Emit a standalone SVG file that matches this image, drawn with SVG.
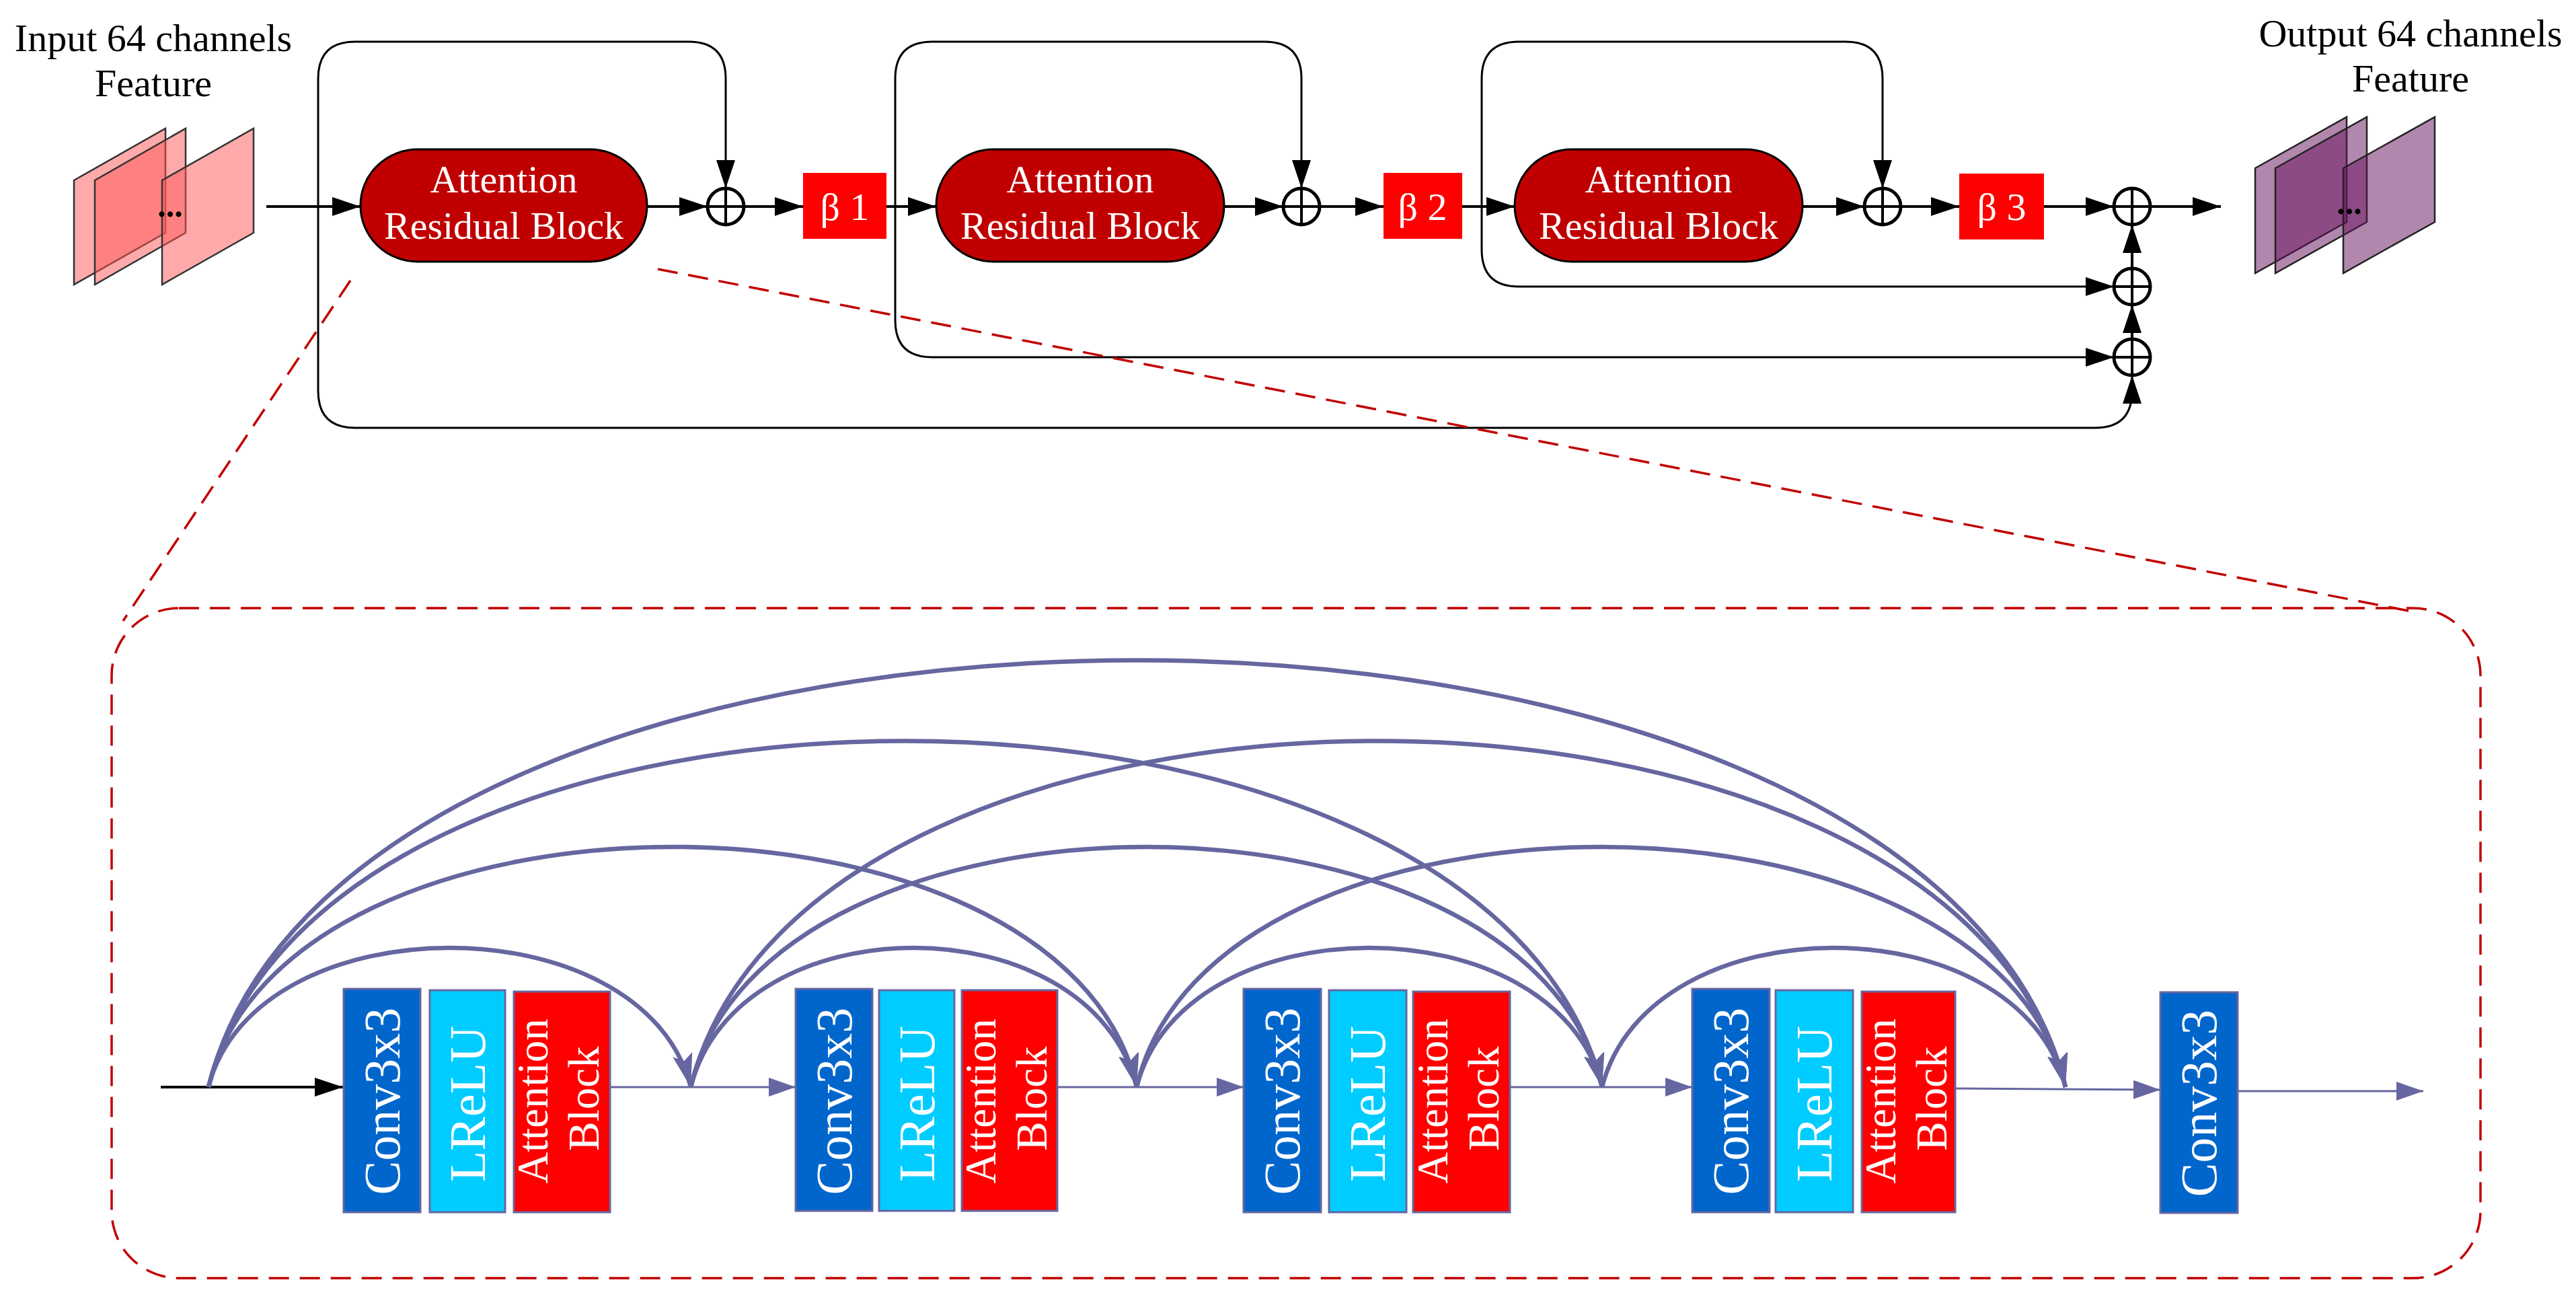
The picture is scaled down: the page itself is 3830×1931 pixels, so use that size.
<svg xmlns="http://www.w3.org/2000/svg" width="3830" height="1931" viewBox="0 0 3830 1931">
<style>
.t{font-family:"Liberation Serif","Times New Roman",serif;}
.lbl{font-size:58px;fill:#000;text-anchor:middle}
.wt{font-size:58px;fill:#fff;text-anchor:middle}
.vt{font-size:76px;fill:#fff;text-anchor:middle;dominant-baseline:central}
.va{font-size:65px;fill:#fff;text-anchor:middle;dominant-baseline:central}
.ln{fill:none;stroke:#000;stroke-width:4}
.lp{fill:none;stroke:#000;stroke-width:3}
.pu{fill:none;stroke:#6666a0;stroke-width:6.5}
.pl{fill:none;stroke:#6666a0;stroke-width:3}
.circ{fill:#fff;stroke:#000;stroke-width:5}
.arb{fill:#c00000;stroke:#000;stroke-width:3}
.beta{fill:#ff0000}
.conv{fill:#0066cc;stroke:#6666a0;stroke-width:3}
.lrelu{fill:#00ccff;stroke:#6666a0;stroke-width:3}
.att{fill:#ff0000;stroke:#6666a0;stroke-width:3}
.dash{fill:none;stroke:#c00000;stroke-width:3.5;stroke-dasharray:30 16}
.pin{fill:#ff5555;fill-opacity:0.5;stroke:#333;stroke-width:2.5}
.pout{fill:#66105c;fill-opacity:0.5;stroke:#222;stroke-width:2.5}
</style>
<defs>
<marker id="ab" markerUnits="userSpaceOnUse" markerWidth="42" markerHeight="28" refX="42" refY="14" orient="auto"><path d="M0,0 L42,14 L0,28 z" fill="#000"/></marker>
<marker id="ap" markerUnits="userSpaceOnUse" markerWidth="50" markerHeight="30" refX="50" refY="15" orient="auto"><path d="M0,0 L50,15 L0,30 L10,15 z" fill="#6666a0"/></marker>
<marker id="apl" markerUnits="userSpaceOnUse" markerWidth="40" markerHeight="28" refX="40" refY="14" orient="auto"><path d="M0,0 L40,14 L0,28 z" fill="#6666a0"/></marker>
</defs>
<rect width="3830" height="1931" fill="#fff"/>

<g id="input-feature">
<text class="t lbl" x="228" y="76">Input 64 channels</text>
<text class="t lbl" x="228" y="143">Feature</text>
<polygon class="pin" points="110,268 246,191 246,346 110,423"/>
<polygon class="pin" points="141,268 276,191 276,346 141,423"/>
<polygon class="pin" points="241,268 377,191 377,346 241,423"/>
<text class="t" x="253" y="322" font-size="50" font-weight="bold" text-anchor="middle">...</text>
</g>
<g id="output-feature">
<text class="t lbl" x="3584" y="69">Output 64 channels</text>
<text class="t lbl" x="3584" y="136">Feature</text>
<polygon class="pout" points="3353,250 3489,174 3489,330 3353,406"/>
<polygon class="pout" points="3383,250 3519,174 3519,330 3383,406"/>
<polygon class="pout" points="3484,250 3620,174 3620,330 3484,406"/>
<text class="t" x="3493" y="318" font-size="50" font-weight="bold" text-anchor="middle">...</text>
</g>

<g id="connectors-top">
<line class="ln" x1="396" y1="307" x2="536" y2="307" marker-end="url(#ab)"/>
<line class="ln" x1="962" y1="307" x2="1052" y2="307" marker-end="url(#ab)"/>
<line class="ln" x1="1106" y1="307" x2="1194" y2="307" marker-end="url(#ab)"/>
<line class="ln" x1="1318" y1="307" x2="1392" y2="307" marker-end="url(#ab)"/>
<line class="ln" x1="1820" y1="307" x2="1908" y2="307" marker-end="url(#ab)"/>
<line class="ln" x1="1962" y1="307" x2="2057" y2="307" marker-end="url(#ab)"/>
<line class="ln" x1="2174" y1="307" x2="2252" y2="307" marker-end="url(#ab)"/>
<line class="ln" x1="2680" y1="307" x2="2772" y2="307" marker-end="url(#ab)"/>
<line class="ln" x1="2826" y1="307" x2="2913" y2="307" marker-end="url(#ab)"/>
<line class="ln" x1="3039" y1="307" x2="3143" y2="307" marker-end="url(#ab)"/>
<line class="ln" x1="3197" y1="307" x2="3302" y2="307" marker-end="url(#ab)"/>
<path class="lp" d="M473,307 V117 Q473,62 528,62 H1024 Q1079,62 1079,117 V280" marker-end="url(#ab)"/>
<path class="lp" d="M473,307 V581 Q473,636 528,636 H3115 Q3170,636 3170,581 V558" marker-end="url(#ab)"/>
<path class="lp" d="M1331,307 V117 Q1331,62 1386,62 H1880 Q1935,62 1935,117 V280" marker-end="url(#ab)"/>
<path class="lp" d="M1331,307 V476 Q1331,531 1386,531 H3143" marker-end="url(#ab)"/>
<path class="lp" d="M2203,307 V117 Q2203,62 2258,62 H2744 Q2799,62 2799,117 V280" marker-end="url(#ab)"/>
<path class="lp" d="M2203,307 V371 Q2203,426 2258,426 H3143" marker-end="url(#ab)"/>
<line class="ln" x1="3170" y1="504" x2="3170" y2="453" marker-end="url(#ab)"/>
<line class="ln" x1="3170" y1="399" x2="3170" y2="334" marker-end="url(#ab)"/>
</g>

<g id="arb1"><rect class="arb" x="536" y="222" width="426" height="167" rx="85" ry="83"/>
<text class="t wt" x="749" y="286">Attention</text><text class="t wt" x="749" y="355">Residual Block</text></g>
<g id="arb2"><rect class="arb" x="1392" y="222" width="428" height="167" rx="85" ry="83"/>
<text class="t wt" x="1606" y="286">Attention</text><text class="t wt" x="1606" y="355">Residual Block</text></g>
<g id="arb3"><rect class="arb" x="2252" y="222" width="428" height="167" rx="85" ry="83"/>
<text class="t wt" x="2466" y="286">Attention</text><text class="t wt" x="2466" y="355">Residual Block</text></g>

<g id="beta1"><rect class="beta" x="1194" y="257" width="124" height="98"/><text class="t wt" x="1256" y="327">β 1</text></g>
<g id="beta2"><rect class="beta" x="2057" y="257" width="117" height="98"/><text class="t wt" x="2115" y="327">β 2</text></g>
<g id="beta3"><rect class="beta" x="2913" y="258" width="126" height="98"/><text class="t wt" x="2976" y="327">β 3</text></g>

<g id="sums">
<g><circle class="circ" cx="1079" cy="307" r="27"/><path class="ln" stroke-width="5" d="M1052,307 H1106 M1079,280 V334"/></g>
<g><circle class="circ" cx="1935" cy="307" r="27"/><path class="ln" stroke-width="5" d="M1908,307 H1962 M1935,280 V334"/></g>
<g><circle class="circ" cx="2799" cy="307" r="27"/><path class="ln" stroke-width="5" d="M2772,307 H2826 M2799,280 V334"/></g>
<g><circle class="circ" cx="3170" cy="307" r="27"/><path class="ln" stroke-width="5" d="M3143,307 H3197 M3170,280 V334"/></g>
<g><circle class="circ" cx="3170" cy="426" r="27"/><path class="ln" stroke-width="5" d="M3143,426 H3197 M3170,399 V453"/></g>
<g><circle class="circ" cx="3170" cy="531" r="27"/><path class="ln" stroke-width="5" d="M3143,531 H3197 M3170,504 V558"/></g>
</g>

<g id="zoom-lines">
<line class="dash" x1="521" y1="417" x2="183" y2="923"/>
<line class="dash" x1="978" y1="400" x2="3586" y2="909"/>
<rect class="dash" x="166" y="904" width="3522" height="996" rx="100" ry="100"/>
</g>

<g id="connectors-bottom">
<line class="ln" x1="239" y1="1616" x2="510" y2="1616" marker-end="url(#ab)"/>
<line class="pl" x1="907" y1="1616" x2="1183" y2="1616" marker-end="url(#apl)"/>
<line class="pl" x1="1572" y1="1616" x2="1849" y2="1616" marker-end="url(#apl)"/>
<line class="pl" x1="2245" y1="1616" x2="2516" y2="1616" marker-end="url(#apl)"/>
<line class="pl" x1="2907" y1="1618" x2="3212" y2="1620" marker-end="url(#apl)"/>
<line class="pl" x1="3327" y1="1622" x2="3603" y2="1622" marker-end="url(#apl)"/>
<path class="pu" d="M310,1616 C380,1340 957,1340 1027,1616" marker-end="url(#ap)"/>
<path class="pu" d="M1027,1616 C1097,1340 1620,1340 1690,1616" marker-end="url(#ap)"/>
<path class="pu" d="M1690,1616 C1760,1340 2312,1340 2382,1616" marker-end="url(#ap)"/>
<path class="pu" d="M2382,1616 C2452,1340 3001,1340 3071,1616" marker-end="url(#ap)"/>
<path class="pu" d="M310,1616 C420,1140 1580,1140 1690,1616" marker-end="url(#ap)"/>
<path class="pu" d="M1027,1616 C1137,1140 2272,1140 2382,1616" marker-end="url(#ap)"/>
<path class="pu" d="M1690,1616 C1800,1140 2961,1140 3071,1616" marker-end="url(#ap)"/>
<path class="pu" d="M310,1616 C480,930 2212,930 2382,1616" marker-end="url(#ap)"/>
<path class="pu" d="M1027,1616 C1197,930 2901,930 3071,1616" marker-end="url(#ap)"/>
<path class="pu" d="M310,1616 C520,770 2861,770 3071,1616" marker-end="url(#ap)"/>
</g>

<g id="block1">
<rect class="conv" x="511" y="1470" width="114" height="332"/><text class="t vt" transform="translate(568,1637) rotate(-90)">Conv3x3</text>
<rect class="lrelu" x="639" y="1472" width="112" height="330"/><text class="t vt" transform="translate(695,1641) rotate(-90)">LReLU</text>
<rect class="att" x="764" y="1474" width="143" height="328"/><text class="t va" transform="translate(792,1637) rotate(-90)">Attention</text><text class="t va" transform="translate(868,1633) rotate(-90)">Block</text>
</g>
<g id="block2">
<rect class="conv" x="1183" y="1470" width="114" height="330"/><text class="t vt" transform="translate(1240,1637) rotate(-90)">Conv3x3</text>
<rect class="lrelu" x="1307" y="1472" width="112" height="328"/><text class="t vt" transform="translate(1363,1641) rotate(-90)">LReLU</text>
<rect class="att" x="1430" y="1472" width="142" height="328"/><text class="t va" transform="translate(1458,1637) rotate(-90)">Attention</text><text class="t va" transform="translate(1534,1633) rotate(-90)">Block</text>
</g>
<g id="block3">
<rect class="conv" x="1849" y="1470" width="115" height="332"/><text class="t vt" transform="translate(1906,1637) rotate(-90)">Conv3x3</text>
<rect class="lrelu" x="1976" y="1472" width="115" height="330"/><text class="t vt" transform="translate(2033,1641) rotate(-90)">LReLU</text>
<rect class="att" x="2101" y="1474" width="144" height="328"/><text class="t va" transform="translate(2130,1637) rotate(-90)">Attention</text><text class="t va" transform="translate(2206,1633) rotate(-90)">Block</text>
</g>
<g id="block4">
<rect class="conv" x="2516" y="1470" width="115" height="332"/><text class="t vt" transform="translate(2573,1637) rotate(-90)">Conv3x3</text>
<rect class="lrelu" x="2640" y="1472" width="115" height="330"/><text class="t vt" transform="translate(2697,1641) rotate(-90)">LReLU</text>
<rect class="att" x="2768" y="1474" width="139" height="328"/><text class="t va" transform="translate(2796,1637) rotate(-90)">Attention</text><text class="t va" transform="translate(2872,1633) rotate(-90)">Block</text>
</g>
<g id="conv-final">
<rect class="conv" x="3212" y="1475" width="115" height="328"/><text class="t vt" transform="translate(3269,1640) rotate(-90)">Conv3x3</text>
</g>
</svg>
